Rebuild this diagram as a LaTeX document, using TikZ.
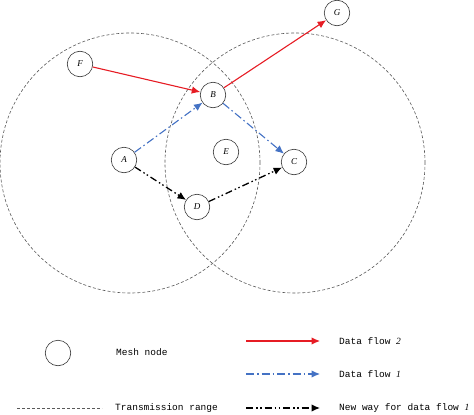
\documentclass[tikz,border=0pt]{standalone}
\usepackage{fontspec}
\setmainfont{Liberation Serif}
\setmonofont{Liberation Mono}
\usetikzlibrary{arrows.meta}
\definecolor{flowRed}{RGB}{230,28,36}
\definecolor{flowBlue}{RGB}{68,114,196}
\tikzset{
  meshNode/.style={circle,draw=black!80,line width=0.6pt,minimum size=25.5pt,
                   inner sep=0pt,font=\fontsize{9}{9}\selectfont\itshape},
  rangeLine/.style={draw=black!65,line width=0.6pt,dash pattern=on 3pt off 2pt},
  flowTwo/.style={draw=flowRed,line width=1.1pt,
                  -{Latex[length=8.5pt,width=7.5pt]}},
  flowOne/.style={draw=flowBlue,line width=1.1pt,
                  dash pattern=on 8pt off 3pt on 1.5pt off 3pt,
                  -{Latex[length=8.5pt,width=7.5pt]}},
  flowNew/.style={draw=black,line width=1.3pt,
                  dash pattern=on 7pt off 3pt on 1.5pt off 2.5pt on 1.5pt off 3pt,
                  -{Latex[length=8.5pt,width=7.5pt]}},
  legendText/.style={anchor=west,inner sep=0pt,font=\ttfamily\fontsize{9.5}{9.5}\selectfont}
}
\begin{document}
\begin{tikzpicture}[x=1pt,y=-1pt]
\useasboundingbox (0,0) rectangle (474,415);

% Transmission ranges
\foreach \cx in {130,295} {
  \draw[rangeLine] (\cx,163) circle (130pt);
}

% Mesh nodes
\node[meshNode] (nodeF) at (80,64) {F};
\node[meshNode] (nodeB) at (213,95) {B};
\node[meshNode] (nodeG) at (337,13) {G};
\node[meshNode] (nodeA) at (124,160) {A};
\node[meshNode] (nodeE) at (226,152) {E};
\node[meshNode] (nodeC) at (294,162) {C};
\node[meshNode] (nodeD) at (197,207) {D};

% Data flows
\draw[flowTwo] (nodeF) -- (nodeB);
\draw[flowTwo] (nodeB) -- (nodeG);
\draw[flowOne] (nodeA) -- (nodeB);
\draw[flowOne] (nodeB) -- (nodeC);
\draw[flowNew] (nodeA) -- (nodeD);
\draw[flowNew] (nodeD) -- (nodeC);

% Legend
\node[meshNode] (legendNode) at (58,353) {};
\node[legendText] (meshText) at (116,352) {Mesh node};
\coordinate (rangeStart) at (17,408);
\coordinate (rangeEnd) at (102,408);
\draw[rangeLine] (rangeStart) -- (rangeEnd);
\node[legendText] (rangeText) at (115,408) {Transmission range};

\coordinate (twoStart) at (246,341);
\coordinate (twoEnd) at (320,341);
\draw[flowTwo] (twoStart) -- (twoEnd);
\node[legendText] (twoText) at (339,341) {Data flow \textrm{\textit{2}}};
\coordinate (oneStart) at (246,374);
\coordinate (oneEnd) at (320,374);
\draw[flowOne] (oneStart) -- (oneEnd);
\node[legendText] (oneText) at (339,374) {Data flow \textrm{\textit{1}}};
\coordinate (newStart) at (246,408);
\coordinate (newEnd) at (320,408);
\draw[flowNew] (newStart) -- (newEnd);
\node[legendText] (newText) at (339,408) {New way for data flow \textrm{\textit{1}}};
\end{tikzpicture}
\end{document}
